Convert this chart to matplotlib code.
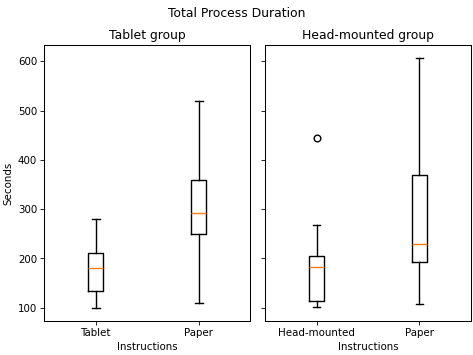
import matplotlib
matplotlib.use("Agg")
import matplotlib.pyplot as plt

# box statistics (seconds)
tablet_labels = ["Tablet", "Paper"]
tablet_whislo = [99, 109]
tablet_q1 = [133, 249]
tablet_med = [180, 293]
tablet_q3 = [210, 360]
tablet_whishi = [280, 520]
tablet_fliers = [[], []]

hmd_labels = ["Head-mounted", "Paper"]
hmd_whislo = [101, 107]
hmd_q1 = [113, 193]
hmd_med = [183, 230]
hmd_q3 = [205, 370]
hmd_whishi = [267, 607]
hmd_fliers = [[445], []]


def make_stats(labels, lo, q1, med, q3, hi, fliers):
    stats = []
    for i in range(len(labels)):
        stats.append({
            "label": labels[i],
            "whislo": lo[i],
            "q1": q1[i],
            "med": med[i],
            "q3": q3[i],
            "whishi": hi[i],
            "fliers": fliers[i],
        })
    return stats


lw = 1.35
props = dict(
    widths=0.15,
    boxprops=dict(linewidth=lw),
    whiskerprops=dict(linewidth=lw),
    capprops=dict(linewidth=lw),
    medianprops=dict(linewidth=lw, color="#ff7f0e"),
    flierprops=dict(markeredgewidth=lw, markersize=6.5),
)

fig, (ax1, ax2) = plt.subplots(1, 2, sharey=True, figsize=(6.4, 4.8))

ax1.bxp(make_stats(tablet_labels, tablet_whislo, tablet_q1, tablet_med,
                   tablet_q3, tablet_whishi, tablet_fliers), **props)
ax1.set_title("Tablet group")
ax1.set_xlabel("Instructions")
ax1.set_ylabel("Seconds")

ax2.bxp(make_stats(hmd_labels, hmd_whislo, hmd_q1, hmd_med,
                   hmd_q3, hmd_whishi, hmd_fliers), **props)
ax2.set_title("Head-mounted group")
ax2.set_xlabel("Instructions")

for ax in (ax1, ax2):
    for s in ax.spines.values():
        s.set_linewidth(1.0)

fig.suptitle("Total Process Duration")
fig.subplots_adjust(left=0.0935, right=0.9944, bottom=0.0966, top=0.872, wspace=0.073)

plt.savefig("out.png", dpi=74)
plt.close()
